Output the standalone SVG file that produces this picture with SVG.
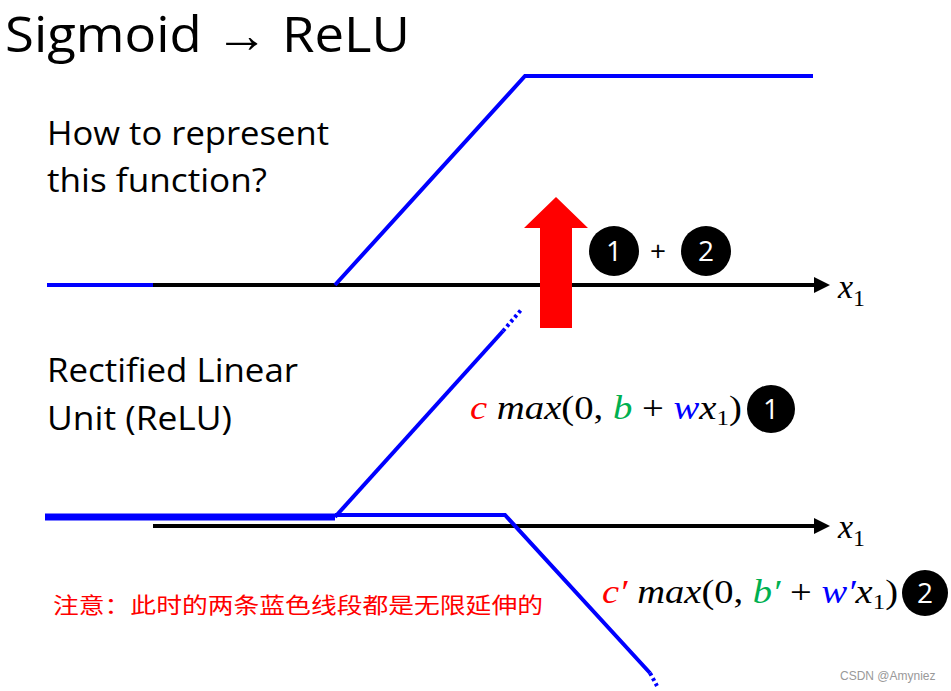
<svg xmlns="http://www.w3.org/2000/svg" width="951" height="691" viewBox="0 0 951 691">
<style>
.t{font-family:"Open Sans","Liberation Sans",sans-serif;fill:#000}
.m{font-family:"Liberation Serif","DejaVu Serif",serif;font-style:italic;font-size:34px}
.n{font-style:normal}
.c{fill:#000}
.cn{font-family:"Open Sans","Liberation Sans",sans-serif;font-size:28px;fill:#fff;text-anchor:middle}
.b{stroke:#0000ff;stroke-width:4;fill:none}
.ax{stroke:#000;stroke-width:4;fill:none}
</style>
<defs>
<marker id="ah" markerWidth="4" markerHeight="4" refX="1" refY="2" orient="auto"><path d="M0,0 L4,2 L0,4z" fill="#000"/></marker>
</defs>
<rect width="951" height="691" fill="#fff"/>
<text class="t" x="5" y="52" font-size="50" textLength="405" lengthAdjust="spacingAndGlyphs">Sigmoid → ReLU</text>
<text class="t" x="47" y="145" font-size="32" textLength="282" lengthAdjust="spacingAndGlyphs">How to represent</text>
<text class="t" x="47" y="192" font-size="32" textLength="220" lengthAdjust="spacingAndGlyphs">this function?</text>
<text class="t" x="47" y="382" font-size="32" textLength="251" lengthAdjust="spacingAndGlyphs">Rectified Linear</text>
<text class="t" x="47" y="430" font-size="32" textLength="185" lengthAdjust="spacingAndGlyphs">Unit (ReLU)</text>
<g id="connectors">
<line class="ax" x1="153" y1="285" x2="818" y2="285" marker-end="url(#ah)"/>
<line class="ax" x1="153" y1="526" x2="818" y2="526" marker-end="url(#ah)"/>
<polyline class="b" points="47,285 153,285"/>
<polyline class="b" points="335,285 525,76 813,76"/>
<line x1="45" y1="517" x2="335" y2="517" stroke="#0000ff" stroke-width="7"/>
<polyline class="b" points="335,517 503,331"/>
<line class="b" x1="503" y1="331" x2="521" y2="310" stroke-dasharray="3,3"/>
<polyline class="b" points="335,515 505,515 650,673"/>
<line class="b" x1="650" y1="673" x2="657" y2="686" stroke-dasharray="3,3"/>
<path d="M540,328 V228 H524 L556,197 L588,228 H572 V328z" fill="#ff0000"/>
</g>
<text class="m" x="838" y="298" font-size="38">x<tspan font-size="24" dy="8" class="n">1</tspan></text>
<text class="m" x="838" y="538" font-size="38">x<tspan font-size="24" dy="8" class="n">1</tspan></text>
<g id="sum">
<circle cx="614" cy="251" r="25" class="c"/><text class="cn" x="614" y="261">1</text>
<text class="t" x="658" y="261" font-size="28" text-anchor="middle">+</text>
<circle cx="706" cy="251" r="25" class="c"/><text class="cn" x="706" y="261">2</text>
</g>
<g id="relu1">
<text class="m" x="470" y="419" textLength="272" lengthAdjust="spacingAndGlyphs"><tspan fill="#ff0000">c</tspan> max<tspan class="n">(0, </tspan><tspan fill="#00b050">b</tspan><tspan class="n"> + </tspan><tspan fill="#0000ff">w</tspan>x<tspan font-size="22" dy="6" class="n">1</tspan><tspan class="n" dy="-6">)</tspan></text>
<circle cx="771" cy="409" r="24" class="c"/><text class="cn" x="771" y="419">1</text>
</g>
<g id="relu2">
<text class="m" x="602" y="603" textLength="296" lengthAdjust="spacingAndGlyphs"><tspan fill="#ff0000">c′</tspan> max<tspan class="n">(0, </tspan><tspan fill="#00b050">b′</tspan><tspan class="n"> + </tspan><tspan fill="#0000ff">w′</tspan>x<tspan font-size="22" dy="6" class="n">1</tspan><tspan class="n" dy="-6">)</tspan></text>
<circle cx="925" cy="593" r="23" class="c"/><text class="cn" x="925" y="603">2</text>
</g>
<text x="53" y="613" font-size="22" fill="#ff0000" font-family="'Noto Sans CJK SC',sans-serif" textLength="490" lengthAdjust="spacingAndGlyphs">注意：此时的两条蓝色线段都是无限延伸的</text>
<text x="840" y="680" font-size="12" fill="#999" font-family="'Liberation Sans',sans-serif">CSDN @Amyniez</text>
</svg>
